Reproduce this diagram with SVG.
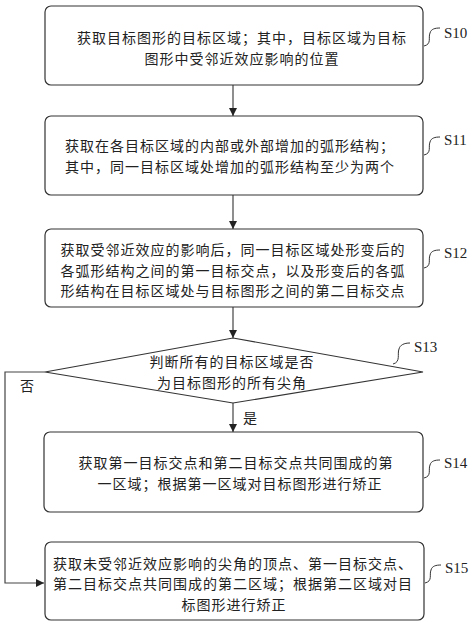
<svg xmlns="http://www.w3.org/2000/svg" width="474" height="627" viewBox="0 0 474 627">
<style>
.box{fill:#fff;stroke:#333;stroke-width:1.2}
.t{font-family:"Noto Sans CJK SC","Noto Sans",sans-serif;font-size:14px;letter-spacing:1px;fill:#222;text-anchor:middle}
.lab{font-family:"Liberation Serif",serif;font-size:15px;fill:#222}
.sq{fill:none;stroke:#333;stroke-width:1}
.c{fill:none;stroke:#444;stroke-width:1.2}
.yn{font-family:"Noto Sans CJK SC",sans-serif;font-size:14px;fill:#222}
</style>
<defs>
<marker id="ah" viewBox="0 0 10 10" refX="10" refY="5" markerWidth="8" markerHeight="8" markerUnits="userSpaceOnUse" orient="auto">
<path d="M0,0 L10,5 L0,10 Z" fill="#222"/>
</marker>
</defs>
<g id="connectors">
<line class="c" x1="233" y1="85" x2="233" y2="116" marker-end="url(#ah)"/>
<line class="c" x1="233" y1="195" x2="233" y2="229" marker-end="url(#ah)"/>
<line class="c" x1="233" y1="307" x2="233" y2="338" marker-end="url(#ah)"/>
<line class="c" x1="233" y1="403" x2="233" y2="432" marker-end="url(#ah)"/>
<polyline class="c" points="45,372 5,372 5,583 44,583" marker-end="url(#ah)"/>
<text class="yn" x="20" y="391">否</text>
<text class="yn" x="243" y="423">是</text>
</g>
<g id="S10">
<rect class="box" x="45" y="6" width="378" height="79" rx="6"/>
<text class="t" x="242" y="43">获取目标图形的目标区域；其中，目标区域为目标</text>
<text class="t" x="242" y="64">图形中受邻近效应影响的位置</text>
<path class="sq" d="M424,46 C432,44 428,38 430,33 C431,29 435,28 440,28"/>
<text class="lab" x="444" y="38">S10</text>
</g>
<g id="S11">
<rect class="box" x="45" y="116" width="378" height="79" rx="6"/>
<text class="t" x="230" y="151">获取在各目标区域的内部或外部增加的弧形结构；</text>
<text class="t" x="230" y="172">其中，同一目标区域处增加的弧形结构至少为两个</text>
<path class="sq" d="M424,155 C432,153 428,147 430,142 C431,138 435,137 440,137"/>
<text class="lab" x="444" y="145">S11</text>
</g>
<g id="S12">
<rect class="box" x="45" y="229" width="378" height="78" rx="6"/>
<text class="t" x="233" y="255">获取受邻近效应的影响后，同一目标区域处形变后的</text>
<text class="t" x="233" y="275.5">各弧形结构之间的第一目标交点，以及形变后的各弧</text>
<text class="t" x="233" y="296">形结构在目标区域处与目标图形之间的第二目标交点</text>
<path class="sq" d="M424,268 C432,266 428,260 430,255 C431,251 435,250 440,250"/>
<text class="lab" x="444" y="258">S12</text>
</g>
<g id="S13">
<polygon class="box" points="233,338 423,372 233,403 45,372"/>
<text class="t" x="232" y="367">判断所有的目标区域是否</text>
<text class="t" x="232" y="388">为目标图形的所有尖角</text>
<path class="sq" d="M393,364 C401,362 397,354 399,349 C400,345 404,343 410,343"/>
<text class="lab" x="414" y="352">S13</text>
</g>
<g id="S14">
<rect class="box" x="44" y="432" width="379" height="80" rx="6"/>
<text class="t" x="236" y="468">获取第一目标交点和第二目标交点共同围成的第</text>
<text class="t" x="240" y="489">一区域；根据第一区域对目标图形进行矫正</text>
<path class="sq" d="M424,478 C432,476 428,470 430,465 C431,461 435,460 440,460"/>
<text class="lab" x="444" y="468">S14</text>
</g>
<g id="S15">
<rect class="box" x="45" y="542" width="379" height="78" rx="6"/>
<text class="t" x="233" y="568.5">获取未受邻近效应影响的尖角的顶点、第一目标交点、</text>
<text class="t" x="233" y="589">第二目标交点共同围成的第二区域；根据第二区域对目</text>
<text class="t" x="234" y="609.5">标图形进行矫正</text>
<path class="sq" d="M425,583 C433,581 429,575 431,570 C432,566 436,565 441,565"/>
<text class="lab" x="445" y="573">S15</text>
</g>
</svg>
